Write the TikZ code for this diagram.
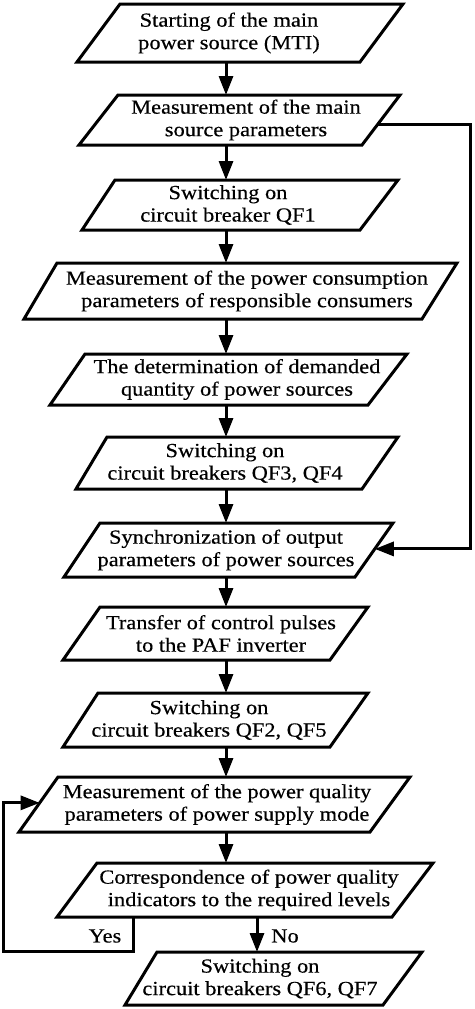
\documentclass[tikz,border=0pt]{standalone}
\usepackage{fontspec}
\setmainfont{Liberation Serif}[FakeStretch=1.12,FakeBold=0.4]
\usetikzlibrary{arrows.meta,calc}
\newcommand\pbox[9]{%
  \node[txt, minimum height={(#4-#3)*1pt}] (#1) at (#2,{(#3+#4)/2}) {#9};
  \coordinate (#1-tl) at (#5,#3); \coordinate (#1-tr) at (#6,#3);
  \coordinate (#1-bl) at (#7,#4); \coordinate (#1-br) at (#8,#4);
  \draw[boxline] (#1-tl) -- (#1-tr) -- (#1-br) -- (#1-bl) -- cycle;}
\begin{document}
\begin{tikzpicture}[x=1pt,y=-1pt,
  boxline/.style={line width=3pt, line join=miter},
  txt/.style={inner sep=0pt, outer sep=0pt, align=center, font=\fontsize{20}{22.5}\selectfont},
  arr/.style={line width=3pt, -{Triangle[length=19pt,width=14pt]}},
  lbl/.style={inner sep=0pt, font=\fontsize{20}{22.5}\selectfont}]
\useasboundingbox (0,0) rectangle (474,1009);
\pbox{b1}{229}{4}{62}{120}{403}{77}{360}{Starting of the main\\power source (MTI)}
\pbox{b2}{246}{95}{145}{118}{400}{79}{362}{Measurement of the main\\source parameters}
\pbox{b3}{228}{180}{230}{115}{398}{82}{360}{Switching on\\circuit breaker QF1}
\pbox{b4}{247}{263}{319}{57}{457}{24}{422}{Measurement of the power consumption\\parameters of responsible consumers}
\pbox{b5}{237}{354}{405}{85}{407}{50}{368}{The determination of demanded\\quantity of power sources}
\pbox{b6}{225}{437}{489}{107}{398}{76}{362}{Switching on\\circuit breakers QF3, QF4}
\pbox{b7}{226}{523}{577}{100}{393}{64}{355}{Synchronization of output\\parameters of power sources}
\pbox{b8}{221}{607}{660}{100}{368}{63}{330}{Transfer of control pulses\\to the PAF inverter}
\pbox{b9}{209}{693}{747}{98}{368}{63}{330}{Switching on\\circuit breakers QF2, QF5}
\pbox{b10}{217}{777}{832}{58}{410}{19}{370}{Measurement of the power quality\\parameters of power supply mode}
\pbox{b11}{249}{863}{917}{97}{433}{57}{392}{Correspondence of power quality\\indicators to the required levels}
\pbox{b12}{260}{952}{1005}{157}{422}{125}{383}{Switching on\\circuit breakers QF6, QF7}

\coordinate (axis) at (226,0);
\coordinate (nox) at (257,0);
\coordinate (yesx) at (133,0);
\coordinate (fbx) at (470,0);
\coordinate (yesC) at (3,951);
\coordinate (b2-r) at ($(b2-tr)!0.58!(b2-br)$);
\coordinate (b7-r) at ($(b7-tr)!0.48!(b7-br)$);
\coordinate (b10-l) at ($(b10-tl)!0.47!(b10-bl)$);

\draw[arr] (b1.south -| axis) -- (b2.north -| axis);
\draw[arr] (b2.south -| axis) -- (b3.north -| axis);
\draw[arr] (b3.south -| axis) -- (b4.north -| axis);
\draw[arr] (b4.south -| axis) -- (b5.north -| axis);
\draw[arr] (b5.south -| axis) -- (b6.north -| axis);
\draw[arr] (b6.south -| axis) -- (b7.north -| axis);
\draw[arr] (b7.south -| axis) -- (b8.north -| axis);
\draw[arr] (b8.south -| axis) -- (b9.north -| axis);
\draw[arr] (b9.south -| axis) -- (b10.north -| axis);
\draw[arr] (b10.south -| axis) -- (b11.north -| axis);
\draw[arr] (b11.south -| nox) -- (b12.north -| nox);
\draw[arr] (b2-r) -| (fbx |- b7-r) -- (b7-r);
\draw[arr] (b11.south -| yesx) |- (yesC) |- (b10-l);

\node[lbl] (yes) at (105,936) {Yes};
\node[lbl] (no) at (285,936) {No};
\end{tikzpicture}
\end{document}
